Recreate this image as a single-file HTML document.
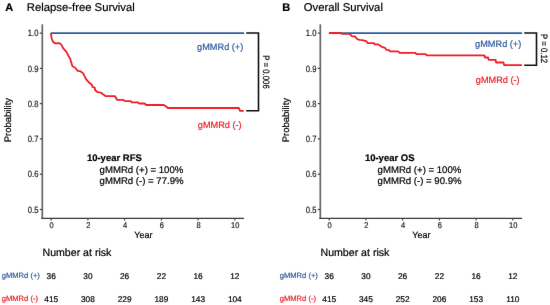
<!DOCTYPE html>
<html><head><meta charset="utf-8"><style>
html,body{margin:0;padding:0;background:#fff;}
svg{display:block;font-family:"Liberation Sans", sans-serif;text-rendering:geometricPrecision;} #w{width:550px;height:305px;overflow:hidden;will-change:transform;}
</style></head><body><div id="w">
<svg width="550" height="305" viewBox="0 0 550 305">
<defs><filter id="bl" x="0" y="0" width="550" height="305" filterUnits="userSpaceOnUse" color-interpolation-filters="sRGB"><feConvolveMatrix order="3" kernelMatrix="0 1 0 1 20 1 0 1 0" edgeMode="duplicate"/></filter></defs>
<g filter="url(#bl)"><rect width="550" height="305" fill="#fff"/>
<text x="5.2" y="10.8" font-size="11" font-weight="bold" fill="#000" stroke="#000" stroke-width="0.2">A</text>
<text x="26.8" y="10.8" font-size="11.3" fill="#000" stroke="#000" stroke-width="0.2">Relapse-free Survival</text>
<line x1="42.3" y1="24.3" x2="42.3" y2="218.8" stroke="#666" stroke-width="1.7"/>
<line x1="41.3" y1="218.35" x2="244.1" y2="218.35" stroke="#3a3a3a" stroke-width="1.35"/>
<line x1="39.8" y1="33.1" x2="42" y2="33.1" stroke="#444" stroke-width="1.2"/>
<text transform="translate(38.4,36.2) scale(0.85,1)" font-size="9" fill="#222" stroke="#222" stroke-width="0.2" text-anchor="end">1.0</text>
<line x1="39.8" y1="68.4" x2="42" y2="68.4" stroke="#444" stroke-width="1.2"/>
<text transform="translate(38.4,71.5) scale(0.85,1)" font-size="9" fill="#222" stroke="#222" stroke-width="0.2" text-anchor="end">0.9</text>
<line x1="39.8" y1="103.6" x2="42" y2="103.6" stroke="#444" stroke-width="1.2"/>
<text transform="translate(38.4,106.7) scale(0.85,1)" font-size="9" fill="#222" stroke="#222" stroke-width="0.2" text-anchor="end">0.8</text>
<line x1="39.8" y1="138.9" x2="42" y2="138.9" stroke="#444" stroke-width="1.2"/>
<text transform="translate(38.4,142.0) scale(0.85,1)" font-size="9" fill="#222" stroke="#222" stroke-width="0.2" text-anchor="end">0.7</text>
<line x1="39.8" y1="174.2" x2="42" y2="174.2" stroke="#444" stroke-width="1.2"/>
<text transform="translate(38.4,177.3) scale(0.85,1)" font-size="9" fill="#222" stroke="#222" stroke-width="0.2" text-anchor="end">0.6</text>
<line x1="39.8" y1="209.5" x2="42" y2="209.5" stroke="#444" stroke-width="1.2"/>
<text transform="translate(38.4,212.6) scale(0.85,1)" font-size="9" fill="#222" stroke="#222" stroke-width="0.2" text-anchor="end">0.5</text>
<line x1="51.2" y1="218.5" x2="51.2" y2="220.6" stroke="#444" stroke-width="1.2"/>
<text transform="translate(51.6,227.8) scale(0.9,1)" font-size="8.3" fill="#222" stroke="#222" stroke-width="0.2" text-anchor="middle">0</text>
<line x1="87.9" y1="218.5" x2="87.9" y2="220.6" stroke="#444" stroke-width="1.2"/>
<text transform="translate(88.3,227.8) scale(0.9,1)" font-size="8.3" fill="#222" stroke="#222" stroke-width="0.2" text-anchor="middle">2</text>
<line x1="124.6" y1="218.5" x2="124.6" y2="220.6" stroke="#444" stroke-width="1.2"/>
<text transform="translate(125.0,227.8) scale(0.9,1)" font-size="8.3" fill="#222" stroke="#222" stroke-width="0.2" text-anchor="middle">4</text>
<line x1="161.4" y1="218.5" x2="161.4" y2="220.6" stroke="#444" stroke-width="1.2"/>
<text transform="translate(161.8,227.8) scale(0.9,1)" font-size="8.3" fill="#222" stroke="#222" stroke-width="0.2" text-anchor="middle">6</text>
<line x1="198.1" y1="218.5" x2="198.1" y2="220.6" stroke="#444" stroke-width="1.2"/>
<text transform="translate(198.5,227.8) scale(0.9,1)" font-size="8.3" fill="#222" stroke="#222" stroke-width="0.2" text-anchor="middle">8</text>
<line x1="234.8" y1="218.5" x2="234.8" y2="220.6" stroke="#444" stroke-width="1.2"/>
<text transform="translate(235.2,227.8) scale(0.9,1)" font-size="8.3" fill="#222" stroke="#222" stroke-width="0.2" text-anchor="middle">10</text>
<text x="143.4" y="237.7" font-size="9" fill="#000" stroke="#000" stroke-width="0.2" text-anchor="middle">Year</text>
<text transform="translate(11.3,120.1) rotate(-90)" font-size="9.5" fill="#000" stroke="#000" stroke-width="0.2" text-anchor="middle">Probability</text>
<line x1="50.9" y1="33.1" x2="244.1" y2="33.1" stroke="#2f5c9e" stroke-width="1.8"/>
<polyline points="50.9,32.9 51.3,36.0 51.8,39.0 52.8,41.4 54.5,43.0 56.5,43.4 59.5,43.1 61.1,44.4 63.3,48.3 66.6,52.2 67.5,53.9 68.5,56.1 70.2,58.8 72.4,66.3 74.9,67.5 77.8,70.8 79.8,71.1 83.0,73.1 84.0,75.1 85.9,78.9 88.8,82.3 91.8,84.8 92.8,87.2 94.7,87.7 95.2,90.2 97.7,92.2 100.6,92.6 105.8,96.2 115.0,96.2 117.0,99.8 122.9,99.8 124.9,101.1 130.8,101.1 131.8,102.3 137.7,102.3 139.2,103.5 144.6,103.5 146.1,105.0 163.8,105.0 165.7,106.2 168.0,108.0 238.8,108.0 240.1,110.8 243.7,110.8" fill="none" stroke="#f01e26" stroke-width="1.8" stroke-linejoin="round"/>
<polyline points="246.2,33.0 258.5,33.0 258.5,110.8 246.2,110.8" fill="none" stroke="#111" stroke-width="1.6"/>
<text transform="translate(262.9,72) rotate(90) scale(0.85,1)" font-size="9.2" fill="#000" stroke="#000" stroke-width="0.2" text-anchor="middle">P = 0.006</text>
<text x="243.3" y="49.5" font-size="9.2" fill="#2f5c9e" stroke="#2f5c9e" stroke-width="0.2" text-anchor="end">gMMRd (+)</text>
<text x="241.7" y="127.8" font-size="9.2" fill="#f01e26" stroke="#f01e26" stroke-width="0.2" text-anchor="end">gMMRd (-)</text>
<text x="86.9" y="161.2" font-size="9.5" font-weight="bold" fill="#000" stroke="#000" stroke-width="0.2">10-year RFS</text>
<text x="99.6" y="172.8" font-size="9.6" fill="#000" stroke="#000" stroke-width="0.2">gMMRd (+) = 100%</text>
<text x="99.6" y="184" font-size="9.6" fill="#000" stroke="#000" stroke-width="0.2">gMMRd (-) = 77.9%</text>
<text x="42.5" y="255.6" font-size="10.6" fill="#000" stroke="#000" stroke-width="0.2">Number at risk</text>
<text x="1.7" y="277.8" font-size="7.6" fill="#2f5c9e" stroke="#2f5c9e" stroke-width="0.2">gMMRd (+)</text>
<text x="1.7" y="300.8" font-size="7.6" fill="#f01e26" stroke="#f01e26" stroke-width="0.2">gMMRd (-)</text>
<text x="51.2" y="279.0" font-size="8.3" fill="#000" stroke="#000" stroke-width="0.2" text-anchor="middle">36</text>
<text x="51.2" y="302.1" font-size="8.3" fill="#000" stroke="#000" stroke-width="0.2" text-anchor="middle">415</text>
<text x="87.9" y="279.0" font-size="8.3" fill="#000" stroke="#000" stroke-width="0.2" text-anchor="middle">30</text>
<text x="87.9" y="302.1" font-size="8.3" fill="#000" stroke="#000" stroke-width="0.2" text-anchor="middle">308</text>
<text x="124.6" y="279.0" font-size="8.3" fill="#000" stroke="#000" stroke-width="0.2" text-anchor="middle">26</text>
<text x="124.6" y="302.1" font-size="8.3" fill="#000" stroke="#000" stroke-width="0.2" text-anchor="middle">229</text>
<text x="161.4" y="279.0" font-size="8.3" fill="#000" stroke="#000" stroke-width="0.2" text-anchor="middle">22</text>
<text x="161.4" y="302.1" font-size="8.3" fill="#000" stroke="#000" stroke-width="0.2" text-anchor="middle">189</text>
<text x="198.1" y="279.0" font-size="8.3" fill="#000" stroke="#000" stroke-width="0.2" text-anchor="middle">16</text>
<text x="198.1" y="302.1" font-size="8.3" fill="#000" stroke="#000" stroke-width="0.2" text-anchor="middle">143</text>
<text x="234.8" y="279.0" font-size="8.3" fill="#000" stroke="#000" stroke-width="0.2" text-anchor="middle">12</text>
<text x="234.8" y="302.1" font-size="8.3" fill="#000" stroke="#000" stroke-width="0.2" text-anchor="middle">104</text>
<text x="282.2" y="10.8" font-size="11" font-weight="bold" fill="#000" stroke="#000" stroke-width="0.2">B</text>
<text x="303.8" y="10.8" font-size="11.3" fill="#000" stroke="#000" stroke-width="0.2">Overall Survival</text>
<line x1="320.3" y1="24.3" x2="320.3" y2="218.8" stroke="#666" stroke-width="1.7"/>
<line x1="319.3" y1="218.35" x2="522.1" y2="218.35" stroke="#3a3a3a" stroke-width="1.35"/>
<line x1="317.8" y1="33.1" x2="320" y2="33.1" stroke="#444" stroke-width="1.2"/>
<text transform="translate(316.4,36.2) scale(0.85,1)" font-size="9" fill="#222" stroke="#222" stroke-width="0.2" text-anchor="end">1.0</text>
<line x1="317.8" y1="68.4" x2="320" y2="68.4" stroke="#444" stroke-width="1.2"/>
<text transform="translate(316.4,71.5) scale(0.85,1)" font-size="9" fill="#222" stroke="#222" stroke-width="0.2" text-anchor="end">0.9</text>
<line x1="317.8" y1="103.6" x2="320" y2="103.6" stroke="#444" stroke-width="1.2"/>
<text transform="translate(316.4,106.7) scale(0.85,1)" font-size="9" fill="#222" stroke="#222" stroke-width="0.2" text-anchor="end">0.8</text>
<line x1="317.8" y1="138.9" x2="320" y2="138.9" stroke="#444" stroke-width="1.2"/>
<text transform="translate(316.4,142.0) scale(0.85,1)" font-size="9" fill="#222" stroke="#222" stroke-width="0.2" text-anchor="end">0.7</text>
<line x1="317.8" y1="174.2" x2="320" y2="174.2" stroke="#444" stroke-width="1.2"/>
<text transform="translate(316.4,177.3) scale(0.85,1)" font-size="9" fill="#222" stroke="#222" stroke-width="0.2" text-anchor="end">0.6</text>
<line x1="317.8" y1="209.5" x2="320" y2="209.5" stroke="#444" stroke-width="1.2"/>
<text transform="translate(316.4,212.6) scale(0.85,1)" font-size="9" fill="#222" stroke="#222" stroke-width="0.2" text-anchor="end">0.5</text>
<line x1="329.2" y1="218.5" x2="329.2" y2="220.6" stroke="#444" stroke-width="1.2"/>
<text transform="translate(329.6,227.8) scale(0.9,1)" font-size="8.3" fill="#222" stroke="#222" stroke-width="0.2" text-anchor="middle">0</text>
<line x1="365.9" y1="218.5" x2="365.9" y2="220.6" stroke="#444" stroke-width="1.2"/>
<text transform="translate(366.3,227.8) scale(0.9,1)" font-size="8.3" fill="#222" stroke="#222" stroke-width="0.2" text-anchor="middle">2</text>
<line x1="402.6" y1="218.5" x2="402.6" y2="220.6" stroke="#444" stroke-width="1.2"/>
<text transform="translate(403.0,227.8) scale(0.9,1)" font-size="8.3" fill="#222" stroke="#222" stroke-width="0.2" text-anchor="middle">4</text>
<line x1="439.4" y1="218.5" x2="439.4" y2="220.6" stroke="#444" stroke-width="1.2"/>
<text transform="translate(439.8,227.8) scale(0.9,1)" font-size="8.3" fill="#222" stroke="#222" stroke-width="0.2" text-anchor="middle">6</text>
<line x1="476.1" y1="218.5" x2="476.1" y2="220.6" stroke="#444" stroke-width="1.2"/>
<text transform="translate(476.5,227.8) scale(0.9,1)" font-size="8.3" fill="#222" stroke="#222" stroke-width="0.2" text-anchor="middle">8</text>
<line x1="512.8" y1="218.5" x2="512.8" y2="220.6" stroke="#444" stroke-width="1.2"/>
<text transform="translate(513.2,227.8) scale(0.9,1)" font-size="8.3" fill="#222" stroke="#222" stroke-width="0.2" text-anchor="middle">10</text>
<text x="421.4" y="237.7" font-size="9" fill="#000" stroke="#000" stroke-width="0.2" text-anchor="middle">Year</text>
<text transform="translate(289.3,120.1) rotate(-90)" font-size="9.5" fill="#000" stroke="#000" stroke-width="0.2" text-anchor="middle">Probability</text>
<line x1="328.9" y1="33.1" x2="522.1" y2="33.1" stroke="#2f5c9e" stroke-width="1.8"/>
<polyline points="329.1,32.9 340.6,32.9 341.6,33.9 349.8,33.9 351.8,36.2 355.0,36.5 357.3,39.1 359.6,39.8 362.3,40.1 366.2,41.1 367.5,43.1 373.9,43.1 374.9,44.3 377.9,44.3 379.5,45.3 382.5,47.2 385.1,47.9 386.4,49.8 389.0,50.1 390.0,51.4 398.2,51.4 399.5,52.8 415.4,52.8 416.3,54.1 425.6,54.1 426.7,55.3 484.4,55.3 484.9,57.5 488.1,57.5 488.7,59.8 495.6,59.8 496.1,62.5 503.5,62.5 504.1,65.1 522.0,65.1" fill="none" stroke="#f01e26" stroke-width="1.8" stroke-linejoin="round"/>
<polyline points="524.2,33.0 536.5,33.0 536.5,65.2 524.2,65.2" fill="none" stroke="#111" stroke-width="1.6"/>
<text transform="translate(540.9,48.6) rotate(90) scale(0.85,1)" font-size="9.2" fill="#000" stroke="#000" stroke-width="0.2" text-anchor="middle">P = 0.12</text>
<text x="521.3" y="47.2" font-size="9.2" fill="#2f5c9e" stroke="#2f5c9e" stroke-width="0.2" text-anchor="end">gMMRd (+)</text>
<text x="519.7" y="83" font-size="9.2" fill="#f01e26" stroke="#f01e26" stroke-width="0.2" text-anchor="end">gMMRd (-)</text>
<text x="364.9" y="161.2" font-size="9.5" font-weight="bold" fill="#000" stroke="#000" stroke-width="0.2">10-year OS</text>
<text x="377.6" y="172.8" font-size="9.6" fill="#000" stroke="#000" stroke-width="0.2">gMMRd (+) = 100%</text>
<text x="377.6" y="184" font-size="9.6" fill="#000" stroke="#000" stroke-width="0.2">gMMRd (-) = 90.9%</text>
<text x="320.5" y="255.6" font-size="10.6" fill="#000" stroke="#000" stroke-width="0.2">Number at risk</text>
<text x="279.7" y="277.8" font-size="7.6" fill="#2f5c9e" stroke="#2f5c9e" stroke-width="0.2">gMMRd (+)</text>
<text x="279.7" y="300.8" font-size="7.6" fill="#f01e26" stroke="#f01e26" stroke-width="0.2">gMMRd (-)</text>
<text x="329.2" y="279.0" font-size="8.3" fill="#000" stroke="#000" stroke-width="0.2" text-anchor="middle">36</text>
<text x="329.2" y="302.1" font-size="8.3" fill="#000" stroke="#000" stroke-width="0.2" text-anchor="middle">415</text>
<text x="365.9" y="279.0" font-size="8.3" fill="#000" stroke="#000" stroke-width="0.2" text-anchor="middle">30</text>
<text x="365.9" y="302.1" font-size="8.3" fill="#000" stroke="#000" stroke-width="0.2" text-anchor="middle">345</text>
<text x="402.6" y="279.0" font-size="8.3" fill="#000" stroke="#000" stroke-width="0.2" text-anchor="middle">26</text>
<text x="402.6" y="302.1" font-size="8.3" fill="#000" stroke="#000" stroke-width="0.2" text-anchor="middle">252</text>
<text x="439.4" y="279.0" font-size="8.3" fill="#000" stroke="#000" stroke-width="0.2" text-anchor="middle">22</text>
<text x="439.4" y="302.1" font-size="8.3" fill="#000" stroke="#000" stroke-width="0.2" text-anchor="middle">206</text>
<text x="476.1" y="279.0" font-size="8.3" fill="#000" stroke="#000" stroke-width="0.2" text-anchor="middle">16</text>
<text x="476.1" y="302.1" font-size="8.3" fill="#000" stroke="#000" stroke-width="0.2" text-anchor="middle">153</text>
<text x="512.8" y="279.0" font-size="8.3" fill="#000" stroke="#000" stroke-width="0.2" text-anchor="middle">12</text>
<text x="512.8" y="302.1" font-size="8.3" fill="#000" stroke="#000" stroke-width="0.2" text-anchor="middle">110</text>
</g></svg></div>
</body></html>
